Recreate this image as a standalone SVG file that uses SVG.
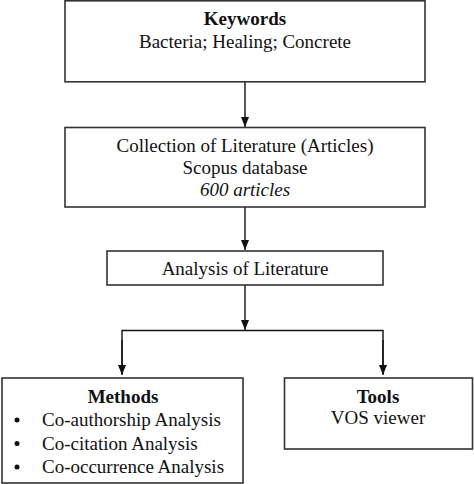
<svg xmlns="http://www.w3.org/2000/svg" width="474" height="484" viewBox="0 0 474 484">
<defs>
<marker id="ah" viewBox="0 0 10 10" refX="10" refY="5" markerWidth="10" markerHeight="10" markerUnits="userSpaceOnUse" orient="auto">
<path d="M0,1 L10,5 L0,9 Z" fill="#111"/>
</marker>
</defs>
<style>
.box{fill:#fff;stroke:#333;stroke-width:1.6}
.t{font-family:"Liberation Serif","Times New Roman",serif;font-size:19px;fill:#111;text-anchor:middle}
.b{font-weight:bold}
.i{font-style:italic}
.l{text-anchor:start}
.c{fill:none;stroke:#111;stroke-width:1.4}
</style>
<rect width="474" height="484" fill="#fff"/>
<g id="connectors">
<line class="c" x1="245" y1="82" x2="245" y2="127" marker-end="url(#ah)"/>
<line class="c" x1="245" y1="207" x2="245" y2="250" marker-end="url(#ah)"/>
<line class="c" x1="245" y1="285" x2="245" y2="330" marker-end="url(#ah)"/>
<polyline class="c" points="122,374 122,330.5 383,330.5 383,374" style="marker-end:none"/>
<line class="c" x1="122" y1="340" x2="122" y2="375" marker-end="url(#ah)"/>
<line class="c" x1="383" y1="340" x2="383" y2="375" marker-end="url(#ah)"/>
</g>
<g id="keywords">
<rect class="box" x="65" y="0.8" width="360" height="81"/>
<text class="t b" x="245" y="25">Keywords</text>
<text class="t" x="245" y="48">Bacteria; Healing; Concrete</text>
</g>
<g id="collection">
<rect class="box" x="65" y="127.5" width="360" height="79.5"/>
<text class="t" x="245" y="151.5">Collection of Literature (Articles)</text>
<text class="t" x="245" y="173.5">Scopus database</text>
<text class="t i" x="245" y="196">600 articles</text>
</g>
<g id="analysis">
<rect class="box" x="107" y="251" width="276" height="34"/>
<text class="t" x="245" y="275">Analysis of Literature</text>
</g>
<g id="methods">
<rect class="box" x="2" y="378" width="241" height="105"/>
<text class="t b" x="123" y="403">Methods</text>
<circle cx="17" cy="420" r="2.5" fill="#111"/>
<circle cx="17" cy="443.5" r="2.5" fill="#111"/>
<circle cx="17" cy="467" r="2.5" fill="#111"/>
<text class="t l" x="42" y="426">Co-authorship Analysis</text>
<text class="t l" x="42" y="449.5">Co-citation Analysis</text>
<text class="t l" x="42" y="473">Co-occurrence Analysis</text>
</g>
<g id="tools">
<rect class="box" x="284.5" y="378" width="188" height="71"/>
<text class="t b" x="378" y="403">Tools</text>
<text class="t" x="378" y="424">VOS viewer</text>
</g>
</svg>
